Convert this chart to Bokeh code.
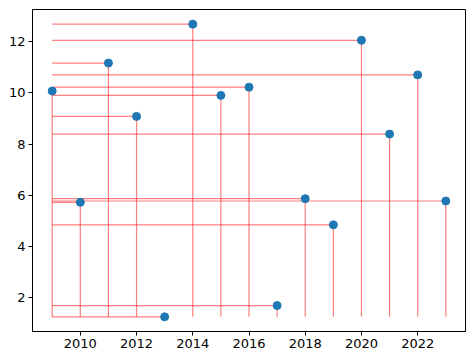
from bokeh.plotting import figure
from bokeh.models import Range1d, FixedTicker
from bokeh.embed import file_html
from bokeh.resources import INLINE

years = [2009, 2010, 2011, 2012, 2013, 2014, 2015, 2016, 2017, 2018, 2019, 2020, 2021, 2022, 2023]
values = [10.07, 5.73, 11.16, 9.08, 1.26, 12.68, 9.90, 10.22, 1.70, 5.87, 4.85, 12.05, 8.39, 10.70, 5.78]
x_ticks = [2010, 2012, 2014, 2016, 2018, 2020, 2022]
y_ticks = [2, 4, 6, 8, 10, 12]

xmin, xmax = min(years), max(years)
ymin, ymax = min(values), max(values)
mx = (xmax - xmin) * 0.05
my = (ymax - ymin) * 0.05

p = figure(width=474, height=360, output_backend="svg", toolbar_location=None,
           x_range=Range1d(xmin - mx, xmax + mx), y_range=Range1d(ymin - my, ymax + my),
           min_border_left=32, min_border_right=9, min_border_top=9, min_border_bottom=29)
p.background_fill_color = "white"
p.border_fill_color = "white"
p.outline_line_color = "black"
p.outline_line_width = 1
p.xgrid.visible = False
p.ygrid.visible = False

# horizontal lines to the left edge, vertical lines down to the minimum
p.segment(x0=[xmin] * len(years), y0=values, x1=years, y1=values,
          line_color="red", line_alpha=0.5, line_width=1.2)
p.segment(x0=years, y0=[ymin] * len(years), x1=years, y1=values,
          line_color="red", line_alpha=0.5, line_width=1.2)
p.scatter(years, values, size=8, fill_color="#1f77b4", line_color="#1f77b4")

for ax, ticks in ((p.xaxis, x_ticks), (p.yaxis, y_ticks)):
    ax.ticker = FixedTicker(ticks=ticks)
    ax.major_label_overrides = {t: str(t) for t in ticks}
    ax.minor_tick_line_color = None
    ax.major_tick_in = 0
    ax.major_tick_out = 4
    ax.major_tick_line_color = "black"
    ax.axis_line_color = "black"
    ax.major_label_text_font = "DejaVu Sans"
    ax.major_label_text_font_size = "13px"
    ax.major_label_text_color = "black"
    ax.major_label_standoff = 3

open("out.html", "w").write(file_html(p, INLINE))
